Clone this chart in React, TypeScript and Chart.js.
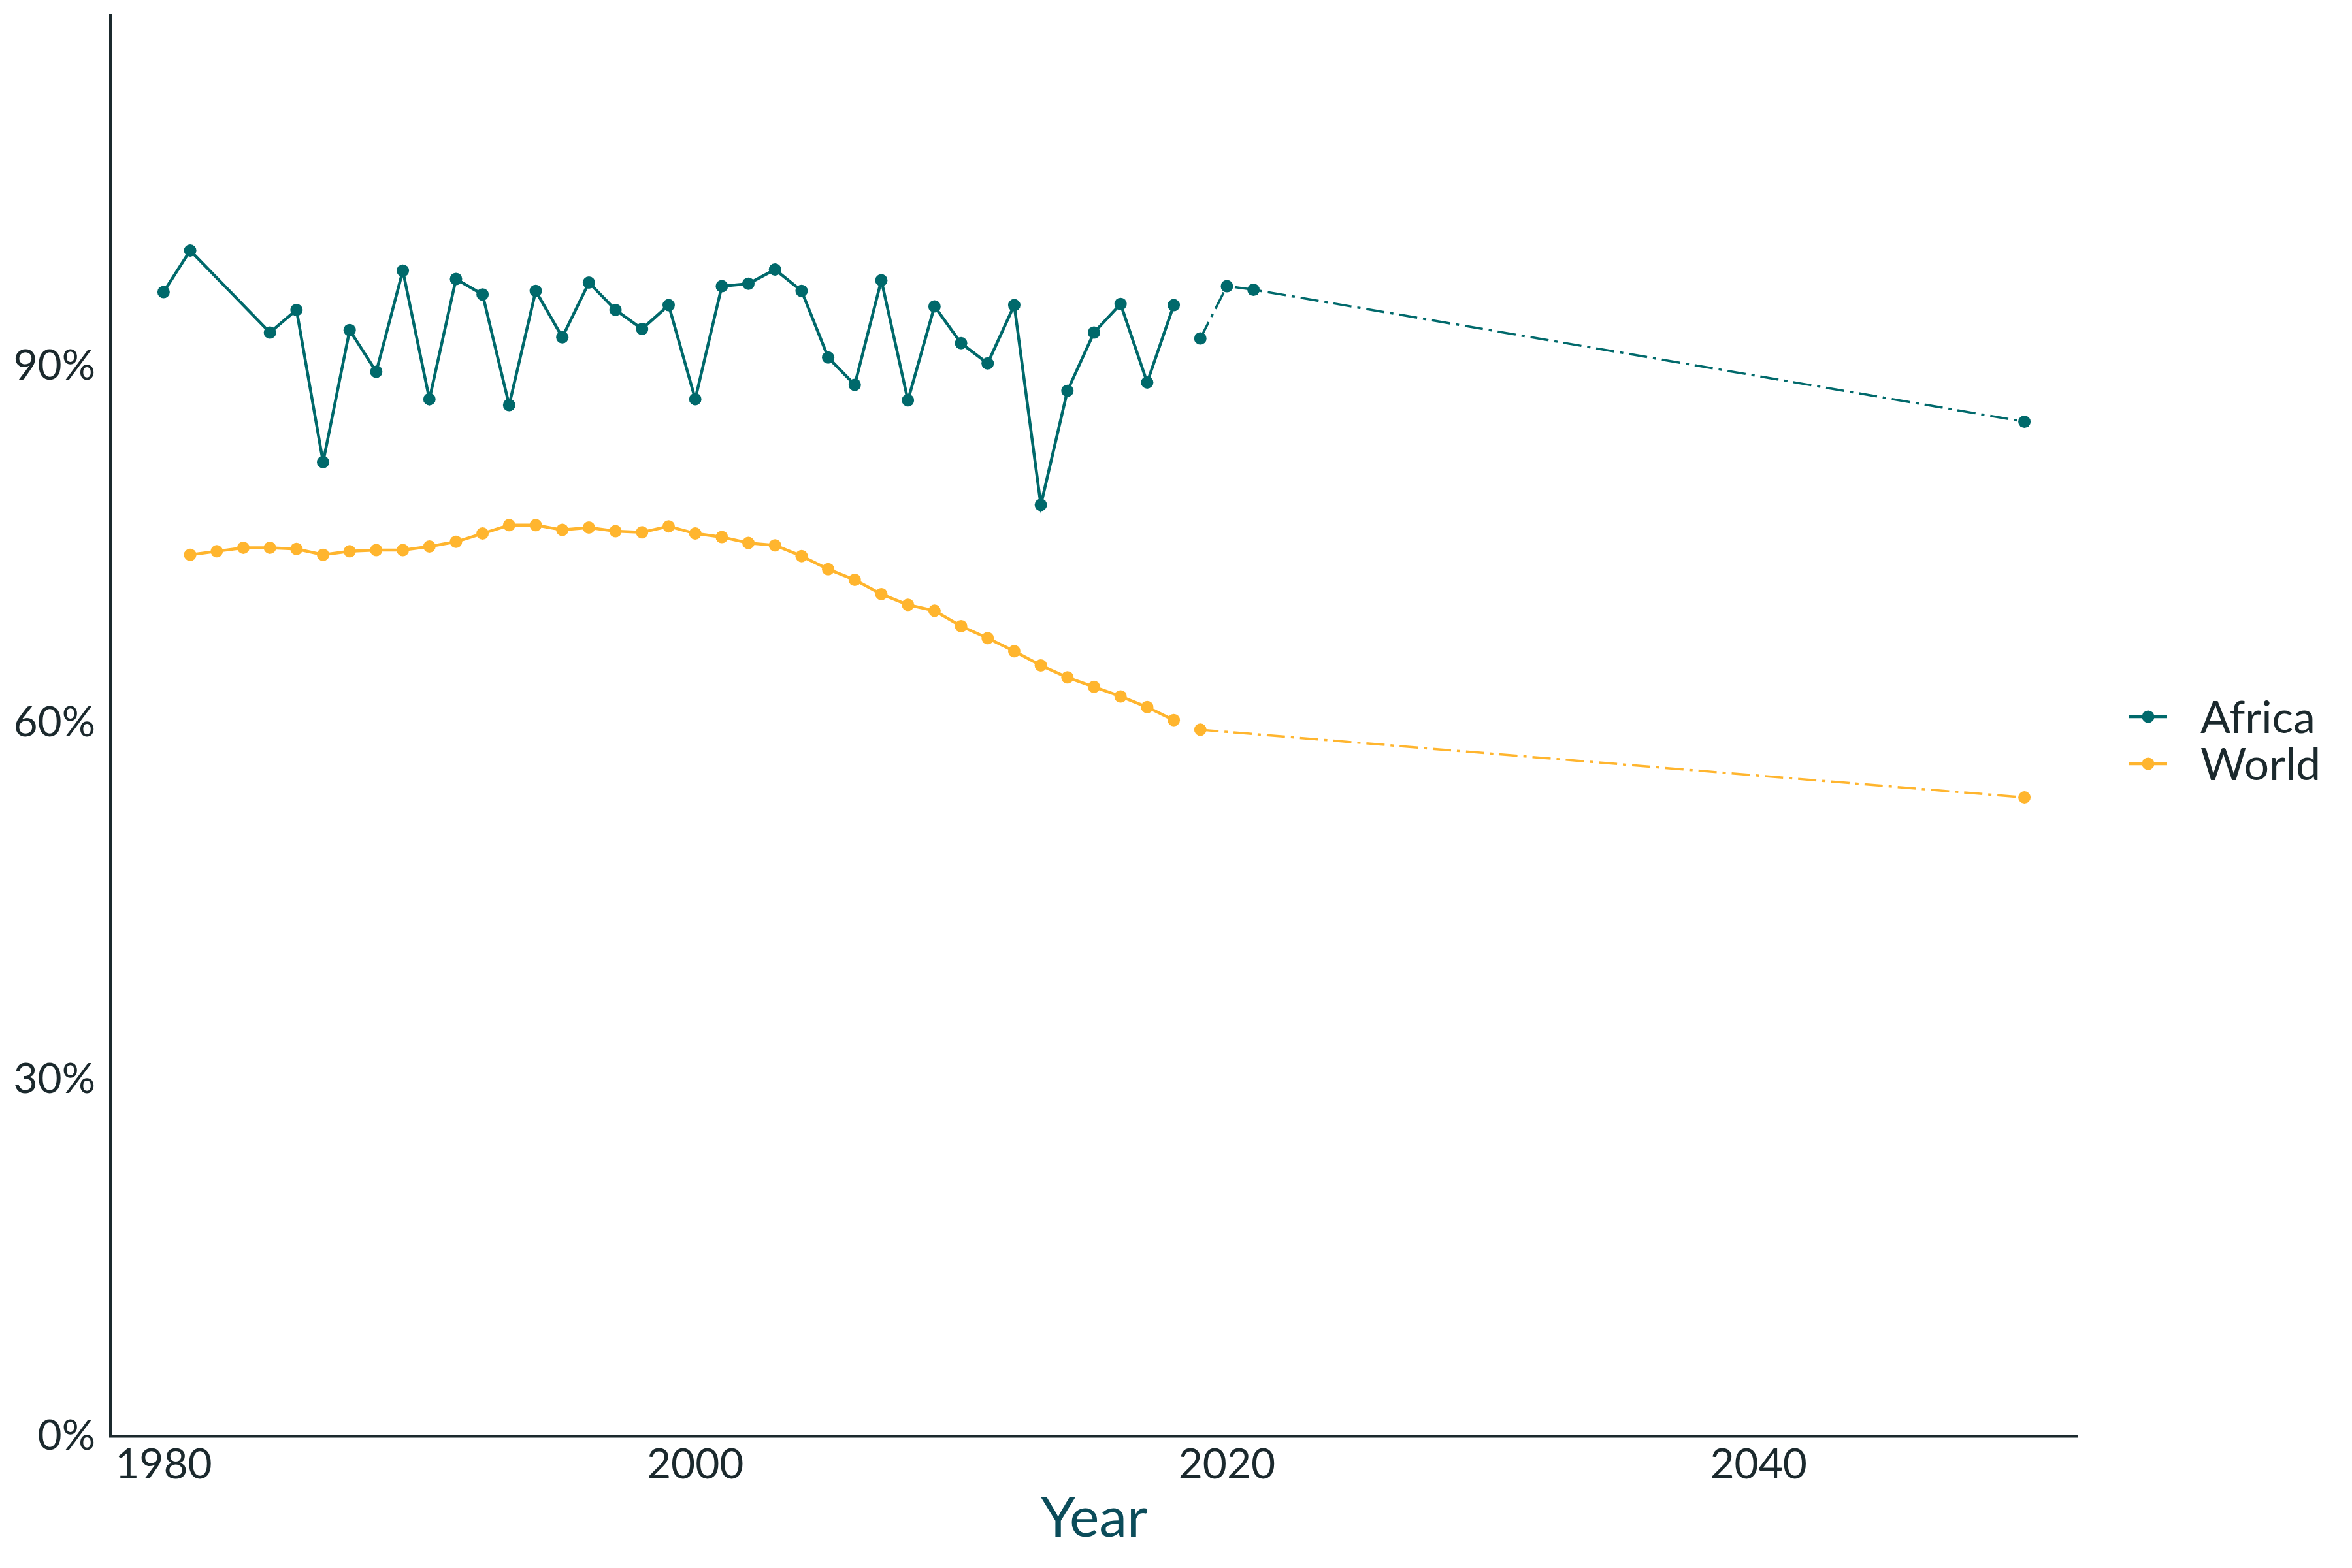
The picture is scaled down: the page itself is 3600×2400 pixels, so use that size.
import React, { useEffect, useRef } from "react";
import { Chart, registerables } from "chart.js";

Chart.register(...registerables);

// ---- Data ----
const seriesNames = ["Africa", "World"];

const africaYears = [
  1980, 1981, 1984, 1985, 1986, 1987, 1988, 1989, 1990, 1991, 1992, 1993, 1994,
  1995, 1996, 1997, 1998, 1999, 2000, 2001, 2002, 2003, 2004, 2005, 2006, 2007,
  2008, 2009, 2010, 2011, 2012, 2013, 2014, 2015, 2016, 2017, 2018,
];
const africaValues = [
  96.2, 99.7, 92.8, 94.7, 81.9, 93.0, 89.5, 98.0, 87.2, 97.3, 96.0, 86.7, 96.3,
  92.4, 97.0, 94.7, 93.1, 95.1, 87.2, 96.7, 96.9, 98.1, 96.3, 90.7, 88.4, 97.2,
  87.1, 95.0, 91.9, 90.2, 95.1, 78.3, 87.9, 92.8, 95.2, 88.6, 95.1,
];
const africaProjYears = [2019, 2020, 2021, 2050];
const africaProjValues = [92.3, 96.7, 96.4, 85.3];

const worldYears = [
  1981, 1982, 1983, 1984, 1985, 1986, 1987, 1988, 1989, 1990, 1991, 1992, 1993,
  1994, 1995, 1996, 1997, 1998, 1999, 2000, 2001, 2002, 2003, 2004, 2005, 2006,
  2007, 2008, 2009, 2010, 2011, 2012, 2013, 2014, 2015, 2016, 2017, 2018,
];
const worldValues = [
  74.1, 74.4, 74.7, 74.7, 74.6, 74.1, 74.4, 74.5, 74.5, 74.8, 75.2, 75.9, 76.6,
  76.6, 76.2, 76.4, 76.1, 76.0, 76.5, 75.9, 75.6, 75.1, 74.9, 74.0, 72.9, 72.0,
  70.8, 69.9, 69.4, 68.1, 67.1, 66.0, 64.8, 63.8, 63.0, 62.2, 61.3, 60.2,
];
const worldProjYears = [2019, 2050];
const worldProjValues = [59.4, 53.7];

const xTickValues = [1980, 2000, 2020, 2040];
const yTickValues = [0, 30, 60, 90];
const xAxisTitle = "Year";

// ---- Styles ----
const AFRICA = "#00696B";
const WORLD = "#FFB52E";
const INK = "#1B292D";
const TITLE_INK = "#0B4C5A";
const FONT = "Lato, 'Open Sans', sans-serif";
const seriesColors = [AFRICA, WORLD];

const toPoints = (xs: number[], ys: number[]) => xs.map((x, i) => ({ x, y: ys[i] }));

export default function App() {
  const ref = useRef<HTMLCanvasElement>(null);

  useEffect(() => {
    const canvas = ref.current;
    if (!canvas) return;

    const lineStyle = (color: string) => ({
      borderColor: color,
      backgroundColor: color,
      pointBackgroundColor: color,
      pointBorderWidth: 0,
      pointRadius: 9.5,
      pointHoverRadius: 9.5,
      borderWidth: 4.5,
      tension: 0,
      fill: false,
    });
    const dash = [28, 9, 5, 9];

    const legendPlugin = {
      id: "ggLegend",
      afterDraw(chart: any) {
        const ctx = chart.ctx as CanvasRenderingContext2D;
        const area = chart.chartArea;
        const x0 = area.right + 79;
        ctx.save();
        seriesNames.forEach((name, i) => {
          const yc = 1097 + i * 72;
          const color = seriesColors[i];
          ctx.strokeStyle = color;
          ctx.lineWidth = 4.5;
          ctx.beginPath();
          ctx.moveTo(x0, yc);
          ctx.lineTo(x0 + 58, yc);
          ctx.stroke();
          ctx.fillStyle = color;
          ctx.beginPath();
          ctx.arc(x0 + 29, yc, 9.5, 0, Math.PI * 2);
          ctx.fill();
          ctx.fillStyle = INK;
          ctx.font = `68px ${FONT}`;
          ctx.textAlign = "left";
          ctx.textBaseline = "alphabetic";
          ctx.fillText(name, x0 + 109, yc + 25);
        });
        ctx.restore();
      },
    };

    const chart = new Chart(canvas, {
      type: "line",
      data: {
        datasets: [
          { label: "World", data: toPoints(worldYears, worldValues), ...lineStyle(WORLD) },
          {
            label: "World projection",
            data: toPoints(worldProjYears, worldProjValues),
            ...lineStyle(WORLD),
            borderWidth: 3.5,
            borderDash: dash,
          },
          { label: "Africa", data: toPoints(africaYears, africaValues), ...lineStyle(AFRICA) },
          {
            label: "Africa projection",
            data: toPoints(africaProjYears, africaProjValues),
            ...lineStyle(AFRICA),
            borderWidth: 3.5,
            borderDash: dash,
          },
        ],
      },
      options: {
        responsive: false,
        animation: false,
        devicePixelRatio: 1,
        layout: { padding: { top: 23, right: 420, left: 0, bottom: 0 } },
        plugins: {
          legend: { display: false },
          tooltip: { enabled: false },
        },
        scales: {
          x: {
            type: "linear",
            min: 1978,
            max: 2052,
            grid: { display: false, drawTicks: false },
            border: { display: true, color: INK, width: 4.5 },
            afterBuildTicks: (scale: any) => {
              scale.ticks = xTickValues.map((v) => ({ value: v }));
            },
            afterFit: (scale: any) => {
              scale.height = 202;
              scale.paddingLeft = 0;
              scale.paddingRight = 0;
            },
            ticks: {
              color: INK,
              font: { family: FONT, size: 64 },
              padding: 6,
              maxRotation: 0,
              autoSkip: false,
              callback: (v: any) => String(v),
            },
            title: {
              display: true,
              text: xAxisTitle,
              color: TITLE_INK,
              font: { family: FONT, size: 86 },
              padding: { top: 0, bottom: 24 },
            },
          },
          y: {
            type: "linear",
            min: 0,
            max: 119.5,
            grid: { display: false, drawTicks: false },
            border: { display: true, color: INK, width: 4.5 },
            afterBuildTicks: (scale: any) => {
              scale.ticks = yTickValues.map((v) => ({ value: v }));
            },
            afterFit: (scale: any) => {
              scale.width = 169;
              scale.paddingTop = 0;
              scale.paddingBottom = 0;
            },
            ticks: {
              color: INK,
              font: { family: FONT, size: 64 },
              padding: 23,
              autoSkip: false,
              callback: (v: any) => `${v}%`,
            },
          },
        },
      },
      plugins: [legendPlugin],
    } as any);

    return () => chart.destroy();
  }, []);

  return (
    <div
      style={{
        position: "fixed",
        left: 0,
        top: 0,
        width: 3600,
        height: 2400,
        background: "#ffffff",
      }}
    >
      <canvas
        ref={ref}
        width={3600}
        height={2400}
        style={{ width: 3600, height: 2400, display: "block" }}
      />
    </div>
  );
}
